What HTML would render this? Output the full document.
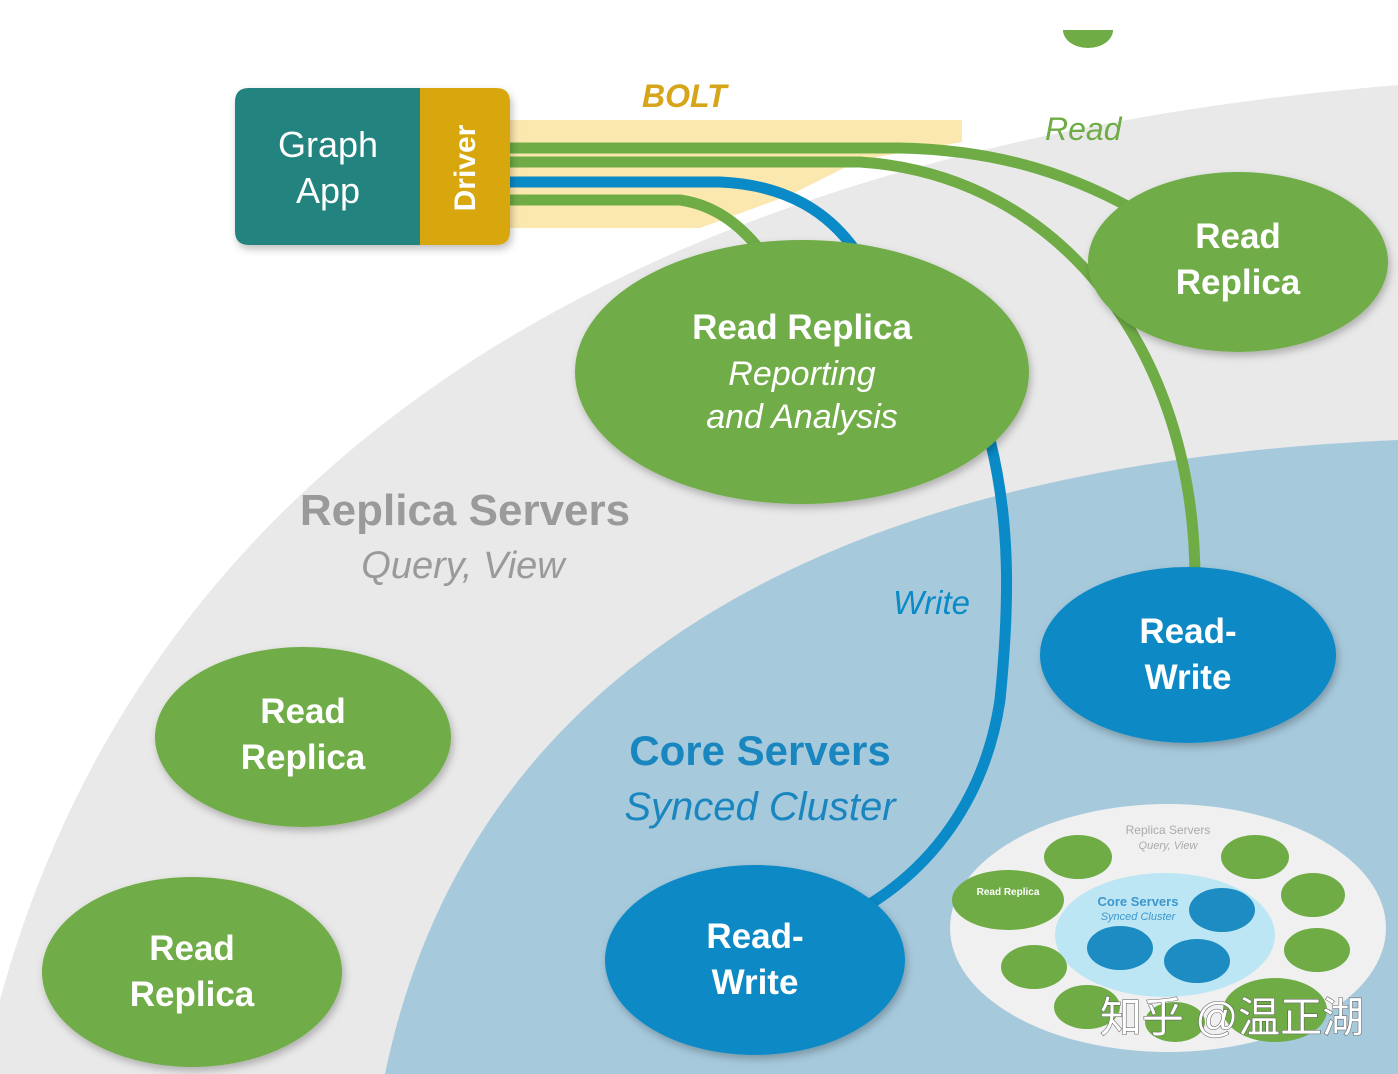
<!DOCTYPE html>
<html><head><meta charset="utf-8"><style>
html,body{margin:0;padding:0;background:#fff;}
svg{display:block;}
text{font-family:"Liberation Sans","Noto Sans CJK SC",sans-serif;}
</style></head><body>
<svg width="1398" height="1074" viewBox="0 0 1398 1074" xmlns="http://www.w3.org/2000/svg">
<defs>
<filter id="sh" x="-20%" y="-20%" width="140%" height="140%"><feDropShadow dx="2" dy="4" stdDeviation="4" flood-color="#000" flood-opacity="0.25"/></filter>
</defs>
<rect width="1398" height="1074" fill="#fff"/>
<!-- gray replica region -->
<path d="M0 1000 C 120 560, 500 160, 1398 85 L1398 1074 L0 1074 Z" fill="#e9e9e9"/>
<!-- blue core region -->
<path d="M385 1074 C 450 760, 700 470, 1398 440 L1398 1074 Z" fill="#a6c9dc"/>
<!-- top partial circle -->
<path d="M1063 30 A25 18 0 0 0 1113 30 Z" fill="#6fac46"/>
<!-- bolt band -->
<polygon points="510,120 962,120 962,142 860,160 790,195 700,228 510,228" fill="#fbe8ae"/>
<text x="642" y="107" font-size="32" font-weight="bold" font-style="italic" fill="#d6a51a">BOLT</text>
<text x="1045" y="140" font-size="32" font-style="italic" fill="#6fac46">Read</text>
<!-- connectors -->
<g fill="none" stroke-width="11">
<path d="M505 148 L900 148 C 1000 150, 1080 175, 1160 225" stroke="#6fac46"/>
<path d="M505 162 L860 162 C 1060 175, 1195 350, 1195 580" stroke="#6fac46"/>
<path d="M505 182 L720 182 C 790 185, 830 215, 855 250" stroke="#0a8ac6"/>
<path d="M990 440 C 1010 520, 1010 600, 1000 700 C 985 800, 930 870, 860 910" stroke="#0a8ac6"/>
<path d="M505 200 L680 200 C 715 205, 740 225, 760 250" stroke="#6fac46"/>
</g>
<text x="893" y="614" font-size="33" font-style="italic" fill="#0a8ac6">Write</text>
<!-- graph app -->
<g filter="url(#sh)">
<path d="M249 88 H420 V245 H249 Q235 245 235 231 V102 Q235 88 249 88 Z" fill="#21837f"/>
<path d="M420 88 H496 Q510 88 510 102 V231 Q510 245 496 245 H420 Z" fill="#d7a70f"/>
</g>
<text x="328" y="157" font-size="36" fill="#fff" text-anchor="middle">Graph</text>
<text x="328" y="203" font-size="36" fill="#fff" text-anchor="middle">App</text>
<text transform="translate(475,168) rotate(-90)" font-size="30" font-weight="bold" fill="#fff" text-anchor="middle">Driver</text>
<!-- nodes -->
<g filter="url(#sh)">
<ellipse cx="1238" cy="262" rx="150" ry="90" fill="#6fac46"/>
<ellipse cx="802" cy="372" rx="227" ry="132" fill="#6fac46"/>
<ellipse cx="1188" cy="655" rx="148" ry="88" fill="#0a8ac6"/>
<ellipse cx="755" cy="960" rx="150" ry="95" fill="#0a8ac6"/>
<ellipse cx="303" cy="737" rx="148" ry="90" fill="#6fac46"/>
<ellipse cx="192" cy="972" rx="150" ry="95" fill="#6fac46"/>
</g>
<g font-size="35" font-weight="bold" fill="#fff" text-anchor="middle">
<text x="1238" y="248">Read</text><text x="1238" y="294">Replica</text>
<text x="802" y="339">Read Replica</text>
<text x="1188" y="643">Read-</text><text x="1188" y="689">Write</text>
<text x="755" y="948">Read-</text><text x="755" y="994">Write</text>
<text x="303" y="723">Read</text><text x="303" y="769">Replica</text>
<text x="192" y="960">Read</text><text x="192" y="1006">Replica</text>
</g>
<g font-size="34" font-style="italic" fill="#fff" text-anchor="middle">
<text x="802" y="385">Reporting</text><text x="802" y="428">and Analysis</text>
</g>
<text x="465" y="525" font-size="44" font-weight="bold" fill="#9a9a9a" text-anchor="middle">Replica Servers</text>
<text x="463" y="578" font-size="38" font-style="italic" fill="#9a9a9a" text-anchor="middle">Query, View</text>
<text x="760" y="765" font-size="42" font-weight="bold" fill="#1a86c0" text-anchor="middle">Core Servers</text>
<text x="760" y="820" font-size="40" font-style="italic" fill="#1a86c0" text-anchor="middle">Synced Cluster</text>
<!-- mini diagram -->
<ellipse cx="1168" cy="928" rx="218" ry="124" fill="#f0f0f0"/>
<ellipse cx="1165" cy="935" rx="110" ry="62" fill="#bde6f4"/>
<g fill="#6fac46">
<ellipse cx="1078" cy="857" rx="34" ry="22"/><ellipse cx="1255" cy="857" rx="34" ry="22"/>
<ellipse cx="1008" cy="900" rx="56" ry="30"/><ellipse cx="1313" cy="895" rx="32" ry="22"/>
<ellipse cx="1034" cy="967" rx="33" ry="22"/><ellipse cx="1317" cy="950" rx="33" ry="22"/>
<ellipse cx="1087" cy="1007" rx="33" ry="22"/><ellipse cx="1175" cy="1022" rx="30" ry="20"/>
<ellipse cx="1275" cy="1010" rx="52" ry="32"/>
</g>
<g fill="#1d8cc3">
<ellipse cx="1222" cy="910" rx="33" ry="22"/><ellipse cx="1120" cy="948" rx="33" ry="22"/><ellipse cx="1197" cy="961" rx="33" ry="22"/>
</g>
<text x="1168" y="834" font-size="12" fill="#aaa" text-anchor="middle">Replica Servers</text>
<text x="1168" y="849" font-size="11" font-style="italic" fill="#aaa" text-anchor="middle">Query, View</text>
<text x="1138" y="906" font-size="13" font-weight="bold" fill="#3b97cc" text-anchor="middle">Core Servers</text>
<text x="1138" y="920" font-size="11" font-style="italic" fill="#3b97cc" text-anchor="middle">Synced Cluster</text>
<text x="1008" y="895" font-size="10" font-weight="bold" fill="#fff" text-anchor="middle">Read Replica</text>
<text x="1232" y="1032" font-size="42" fill="#fff" text-anchor="middle" stroke="#555" stroke-width="1" style="paint-order:stroke">知乎 @温正湖</text>
</svg>
</body></html>
